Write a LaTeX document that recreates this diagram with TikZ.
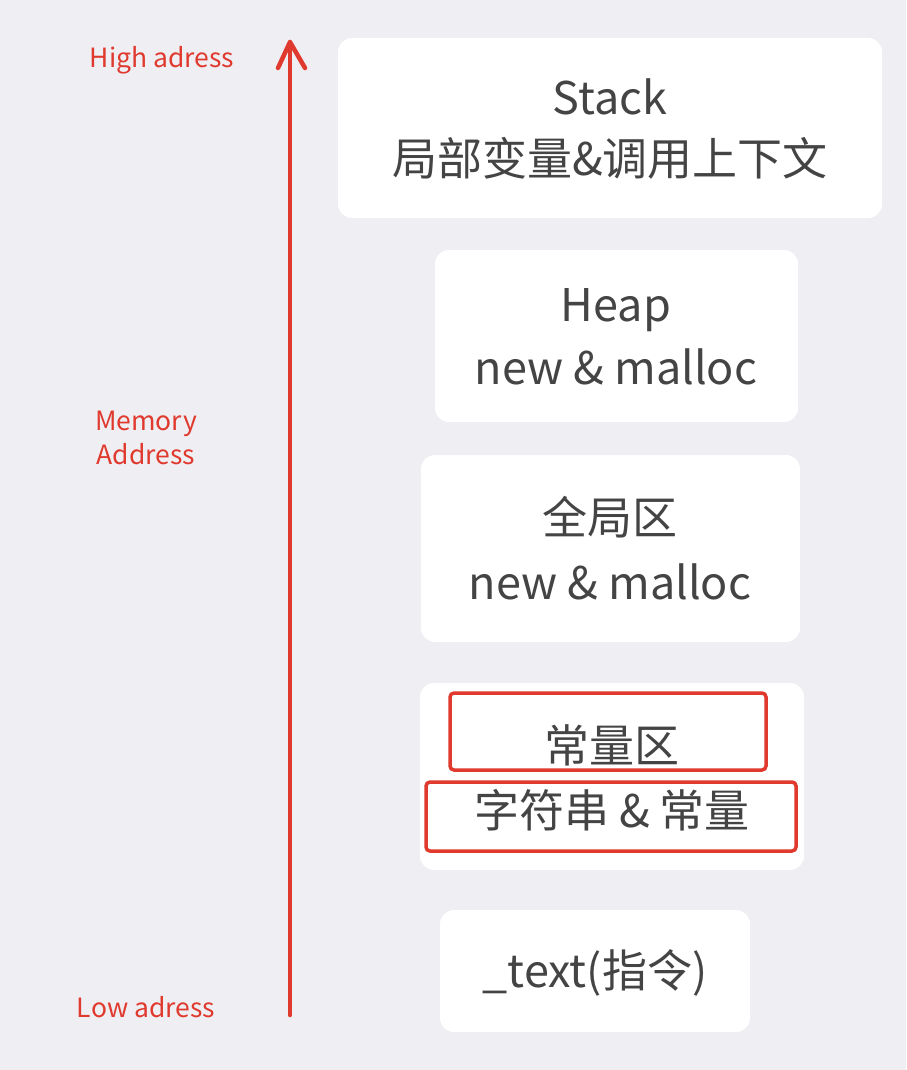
\documentclass[tikz,border=0pt]{standalone}
\usepackage{fontspec}
\setmainfont{Noto Sans CJK SC}
\definecolor{bg}{HTML}{EEEEF3}
\definecolor{tx}{HTML}{444444}
\definecolor{rd}{HTML}{E03A2E}
\begin{document}
\begin{tikzpicture}[x=1pt,y=-1pt,
  box/.style={fill=white,rounded corners=14pt},
  big/.style={text=tx,font=\fontsize{45}{60}\selectfont,align=center},
  lab/.style={text=rd,font=\fontsize{26.5}{34}\selectfont,align=center},
  hl/.style={draw=rd,line width=3.5pt,rounded corners=4pt}]
\fill[bg] (0,0) rectangle (906,1070);
\useasboundingbox (0,0) rectangle (906,1070);
\fill[box] (338,38) rectangle (882,218);
\fill[box] (435,250) rectangle (798,422);
\fill[box] (421,455) rectangle (800,642);
\fill[box] (420,683) rectangle (804,870);
\fill[box] (440,910) rectangle (750,1032);
\node[big] (s1) at (610,97) {Stack};
\node[big] (s2) at (610,158) {局部变量\&调用上下文};
\node[big] (h1) at (616,310) {Heap};
\node[big] (h2) at (616,367) {new \& malloc};
\node[big] (g1) at (610,517) {全局区};
\node[big] (g2) at (610,582) {new \& malloc};
\node[big] (c1) at (612,745) {常量区};
\node[big] (c2) at (612,810) {字符串 \& 常量};
\node[big] (t1) at (595,973) {\_text(指令)};
\draw[hl] (450,693) rectangle (766,770);
\draw[hl] (426,782) rectangle (796,851);
\coordinate (lo) at (290,1015);
\coordinate (hi) at (290,42);
\draw[rd,line width=4.5pt,line cap=round,line join=round] (lo) -- (hi);
\draw[rd,line width=4.5pt,line cap=round,line join=round] (278,68) -- (hi) -- (305,68);
\node[lab] (la) at (162,60) {High adress};
\node[lab] (lb) at (146,438) {Memory\\Address};
\node[lab] (lc) at (146,1007) {Low adress};
\end{tikzpicture}
\end{document}
